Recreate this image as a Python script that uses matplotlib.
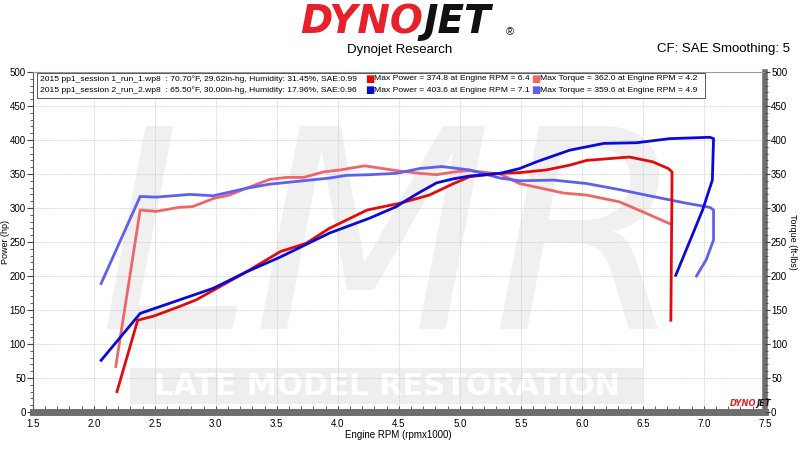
import matplotlib.pyplot as plt
from matplotlib.ticker import MultipleLocator
from matplotlib.patches import Rectangle

# run 1 power (hp)
run1_power_rpm = [2.19, 2.36, 2.49, 2.70, 2.84, 2.98, 3.25, 3.53, 3.74, 3.93, 4.24, 4.40, 4.51,
                  4.75, 4.95, 5.08, 5.33, 5.49, 5.71, 5.90, 6.04, 6.39, 6.58, 6.71, 6.74, 6.73]
run1_power_hp = [30, 135, 141, 155, 165, 179, 206, 236, 248, 270, 297, 303, 307,
                 319, 336, 346, 351, 352, 356, 363, 370, 375, 368, 358, 353, 135]

# run 1 torque (ft-lbs)
run1_torque_rpm = [2.18, 2.38, 2.51, 2.70, 2.81, 2.98, 3.11, 3.25, 3.44, 3.58, 3.72, 3.88, 4.02,
                   4.22, 4.48, 4.67, 4.81, 4.95, 5.08, 5.33, 5.49, 5.85, 6.04, 6.31, 6.53, 6.72]
run1_torque = [67, 297, 295, 301, 302, 314, 319, 329, 342, 345, 345, 353, 356,
               362, 355, 351, 349, 353, 355, 350, 336, 322, 319, 309, 292, 277]

# run 2 power (hp)
run2_power_rpm = [2.06, 2.38, 2.98, 3.25, 3.53, 3.93, 4.26, 4.48, 4.54, 4.67, 4.81, 4.95, 5.08,
                  5.33, 5.49, 5.63, 5.90, 6.18, 6.45, 6.72, 7.05, 7.08, 7.07, 6.99, 6.77]
run2_power_hp = [76, 145, 182, 206, 228, 263, 285, 302, 309, 323, 337, 343, 347,
                 351, 358, 368, 385, 395, 396, 402, 404, 402, 341, 297, 201]

# run 2 torque (ft-lbs)
run2_torque_rpm = [2.06, 2.38, 2.51, 2.79, 2.98, 3.25, 3.44, 3.66, 3.93, 4.07, 4.26, 4.48, 4.67,
                   4.85, 5.08, 5.33, 5.49, 5.77, 6.04, 6.31, 6.58, 6.86, 7.05, 7.08, 7.08, 7.02, 6.94]
run2_torque = [189, 317, 316, 320, 318, 329, 335, 339, 344, 348, 349, 351, 358,
               361, 356, 344, 340, 341, 336, 327, 317, 307, 301, 297, 253, 224, 200]

legend_runs = ["2015 pp1_session 1_run_1.wp8  : 70.70\u00b0F, 29.62in-hg, Humidity: 31.45%, SAE:0.99",
               "2015 pp1_session 2_run_2.wp8  : 65.50\u00b0F, 30.00in-hg, Humidity: 17.96%, SAE:0.96"]
legend_power = ["Max Power = 374.8 at Engine RPM = 6.4", "Max Power = 403.6 at Engine RPM = 7.1"]
legend_torque = ["Max Torque = 362.0 at Engine RPM = 4.2", "Max Torque = 359.6 at Engine RPM = 4.9"]

RED = "#e00c0c"
LRED = "#ee6666"
BLUE = "#0a0ad8"
LBLUE = "#5f5ff0"

plt.rcParams["font.family"] = ["Liberation Sans", "DejaVu Sans"]

fig = plt.figure(figsize=(8, 4.5), dpi=100)
ax = fig.add_axes([0.041, 0.0844, 0.915, 0.7556])

# watermark
ax.text(4.45, 235, "LMR", fontsize=200, fontstyle="italic", family="DejaVu Sans",
        color="#f0f0f0", ha="center", va="center", zorder=0, clip_on=True)
ax.add_patch(Rectangle((2.3, 12), 4.2, 52, facecolor="#eeeeee", edgecolor="none", zorder=0))
ax.text(4.4, 38, "LATE MODEL RESTORATION", fontsize=22, fontweight="bold", family="DejaVu Sans",
        color="white", ha="center", va="center", zorder=0)

ax.plot(run1_torque_rpm, run1_torque, color=LRED, lw=2, zorder=3)
ax.plot(run2_torque_rpm, run2_torque, color=LBLUE, lw=2, zorder=3)
ax.plot(run1_power_rpm, run1_power_hp, color=RED, lw=2, zorder=4)
ax.plot(run2_power_rpm, run2_power_hp, color=BLUE, lw=2, zorder=4)

ax.set_xlim(1.5, 7.5)
ax.set_ylim(0, 500)
ax.xaxis.set_minor_locator(MultipleLocator(0.1))
ax.yaxis.set_major_locator(MultipleLocator(50))
ax.yaxis.set_minor_locator(MultipleLocator(10))
ax.set_xticks([1.5 + 0.5 * i for i in range(13)])
ax.set_xticklabels([f"{1.5 + 0.5 * i:.1f}" for i in range(13)])
ax.grid(True, which="major", color="#c8c8c8", lw=0.6, ls=(0, (1, 1)), zorder=1)
ax.tick_params(axis="both", which="both", labelsize=7, color="#444444", pad=1)
ax.tick_params(axis="x", which="both", direction="in", length=4, pad=5)
ax.tick_params(axis="y", which="major", length=4)
ax.tick_params(axis="y", which="minor", length=2)
ax.set_xlabel("Engine RPM (rpmx1000)", fontsize=7, labelpad=1)
ax.spines["bottom"].set_linewidth(5)
ax.spines["bottom"].set_color("#6e6e6e")
ax.spines["left"].set_color("#555555")
ax.spines["top"].set_color("#999999")
ax.spines["right"].set_linewidth(4)
ax.spines["right"].set_color("#6e6e6e")

ax2 = ax.twinx()
ax2.set_ylim(0, 500)
ax2.yaxis.set_major_locator(MultipleLocator(50))
ax2.yaxis.set_minor_locator(MultipleLocator(10))
ax2.tick_params(axis="y", which="both", labelsize=7, color="#444444", pad=1)
ax2.tick_params(axis="y", which="minor", length=2)
for s in ax2.spines.values():
    s.set_visible(False)

fig.text(6 / 800, 1 - 242 / 450, "Power (hp)", fontsize=6.5, rotation=90, ha="center", va="center")
fig.text(792 / 800, 1 - 242 / 450, "Torque (ft-lbs)", fontsize=6.5, rotation=270, ha="center", va="center")

# legend box
fig.patches.append(Rectangle((37 / 800, 1 - 98 / 450), 668 / 800, 25 / 450, transform=fig.transFigure,
                             facecolor="white", edgecolor="#555555", lw=0.7, zorder=5))
for i, (r, p, t) in enumerate(zip(legend_runs, legend_power, legend_torque)):
    yy = 1 - (79 + 11.5 * i) / 450
    fig.text(40 / 800, yy, r, fontsize=6.1, va="center", zorder=6)
    fig.text(365 / 800, yy, "\u25a0", fontsize=7, family="DejaVu Sans", color=[RED, BLUE][i],
             va="center", zorder=6)
    fig.text(374 / 800, yy, p, fontsize=6.1, va="center", zorder=6)
    fig.text(531 / 800, yy, "\u25a0", fontsize=7, family="DejaVu Sans", color=[LRED, LBLUE][i],
             va="center", zorder=6)
    fig.text(540 / 800, yy, t, fontsize=6.1, va="center", zorder=6)

# header
fig.text(423 / 800, 1 - 22 / 450, "DYNO", fontsize=28, fontweight="heavy", fontstyle="italic",
         family="DejaVu Sans", color="#e8202a", ha="right", va="center")
fig.text(423 / 800, 1 - 22 / 450, "JET", fontsize=28, fontweight="heavy", fontstyle="italic",
         family="DejaVu Sans", color="#111111", ha="left", va="center")
fig.text(506 / 800, 1 - 32 / 450, "\u00ae", fontsize=8, color="#111111", ha="left", va="center")
fig.text(0.5, 1 - 50 / 450, "Dynojet Research", fontsize=9.5, ha="center", va="center")
fig.text(0.988, 1 - 49 / 450, "CF: SAE Smoothing: 5", fontsize=9.5, ha="right", va="center")

# small logo in corner
ax.text(7.43, 6, "DYNO", fontsize=6, fontweight="heavy", fontstyle="italic", family="DejaVu Sans",
        color="#e8202a", ha="right", va="bottom", zorder=6)
ax.text(7.43, 6, "JET", fontsize=6, fontweight="heavy", fontstyle="italic", family="DejaVu Sans",
        color="#111111", ha="left", va="bottom", zorder=6)

fig.savefig("out.png", dpi=100)
